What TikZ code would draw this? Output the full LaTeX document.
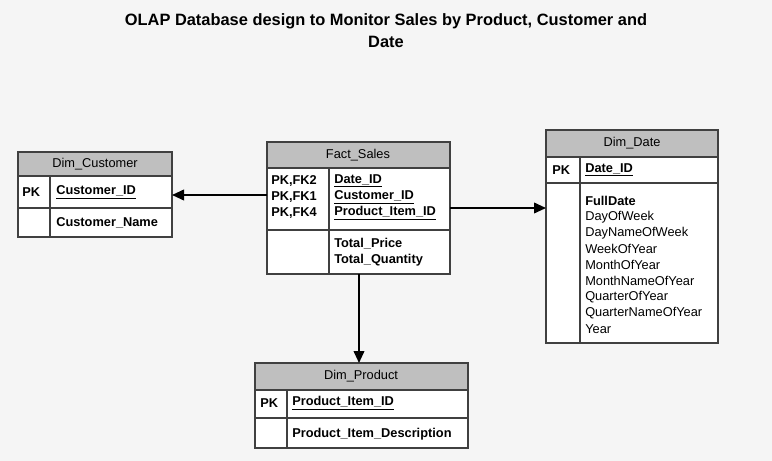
\documentclass[tikz,border=0pt]{standalone}
\usepackage{fontspec}
\setmainfont{Liberation Sans}
\usetikzlibrary{arrows.meta}
\begin{document}
\begin{tikzpicture}[x=0.75pt,y=-0.75pt,
  bx/.style={draw=black!75,line width=0.9pt,fill=white,inner sep=0pt},
  hd/.style={draw=black!75,line width=0.9pt,fill=black!25,inner sep=0pt},
  ln/.style={draw=black!75,line width=0.9pt},
  t/.style={anchor=west,inner sep=0pt,font=\fontsize{9.6}{11}\selectfont},
  tb/.style={t,font=\fontsize{9.6}{11}\selectfont\bfseries},
  ht/.style={inner sep=0pt,font=\fontsize{9.6}{11}\selectfont},
  arr/.style={line width=1.3pt,-{Triangle[length=9pt,width=8pt]}}]
\fill[black!4] (0,0) rectangle (772,461);
\useasboundingbox (0,0) rectangle (772,461);
\node[align=center,font=\fontsize{12.3}{16.5}\selectfont\bfseries] (title) at (386,31) {OLAP Database design to Monitor Sales by Product, Customer and\\Date};
% Dim_Customer
\draw[bx] (18,152) rectangle (172,237);
\draw[hd] (18,152) rectangle (172,176);
\draw[ln] (18,208) -- (172,208); \draw[ln] (50,176) -- (50,237);
\node[ht] (c0) at (95,164) {Dim\_Customer};
\node[tb] (c1) at (22,192) {PK};
\node[tb] (c2) at (56,192) {\underline{Customer\_ID}};
\node[tb] (c3) at (56,223) {Customer\_Name};
\coordinate (cR) at (172,195);
% Fact_Sales
\draw[bx] (267,142) rectangle (450,274);
\draw[hd] (267,142) rectangle (450,168);
\draw[ln] (267,230) -- (450,230); \draw[ln] (329,168) -- (329,274);
\node[ht] (f0) at (358,155) {Fact\_Sales};
\node[tb] (f1) at (271,181) {PK,FK2};
\node[tb] (f2) at (271,197) {PK,FK1};
\node[tb] (f3) at (271,213) {PK,FK4};
\node[tb] (f4) at (334,181) {\underline{Date\_ID}};
\node[tb] (f5) at (334,197) {\underline{Customer\_ID}};
\node[tb] (f6) at (334,213) {\underline{Product\_Item\_ID}};
\node[tb] (f7) at (334,244) {Total\_Price};
\node[tb] (f8) at (334,260) {Total\_Quantity};
\coordinate (fL) at (267,195);
\coordinate (fR) at (450,208);
\coordinate (fB) at (359,274);
% Dim_Date
\draw[bx] (546,130) rectangle (718,343);
\draw[hd] (546,130) rectangle (718,157);
\draw[ln] (546,183) -- (718,183); \draw[ln] (580,157) -- (580,343);
\node[ht] (d0) at (632,143) {Dim\_Date};
\node[tb] (d1) at (552,170) {PK};
\node[tb] (d2) at (585,170) {\underline{Date\_ID}};
\node[tb] (d3) at (585,201) {FullDate};
\foreach \n/\s [count=\i] in {DayOfWeek,DayNameOfWeek,WeekOfYear,MonthOfYear,MonthNameOfYear,QuarterOfYear,QuarterNameOfYear,Year}
  \node[t] (dd\i) at (585,201+16*\i) {\n};
\coordinate (dL) at (546,208);
% Dim_Product
\draw[bx] (255,363) rectangle (468,448);
\draw[hd] (255,363) rectangle (468,390);
\draw[ln] (255,418) -- (468,418); \draw[ln] (287,390) -- (287,448);
\node[ht] (p0) at (361,376) {Dim\_Product};
\node[tb] (p1) at (260,403) {PK};
\node[tb] (p2) at (292,403) {\underline{Product\_Item\_ID}};
\node[tb] (p3) at (292,434) {Product\_Item\_Description};
\coordinate (pT) at (359,363);
% connectors
\draw[arr] (fL) -- (cR);
\draw[arr] (fR) -- (dL);
\draw[arr] (fB) -- (pT);
\end{tikzpicture}
\end{document}
